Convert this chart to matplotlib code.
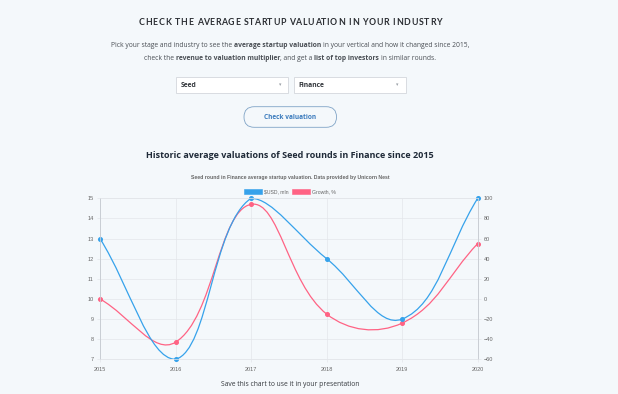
import matplotlib
matplotlib.use('Agg')
import matplotlib.pyplot as plt
import numpy as np
from matplotlib.path import Path
from matplotlib.patches import PathPatch, FancyBboxPatch, Rectangle

# chart data
years = [2015, 2016, 2017, 2018, 2019, 2020]
usd_mln = [13, 7, 15, 12, 9, 15]
growth_pct = [0, -43, 94, -15, -24, 55]
usd_ticks = list(range(7, 16))
growth_ticks = list(range(-60, 101, 20))

stage = 'Seed'
industry = 'Finance'

BG = '#f4f8fb'
BLUE = '#36a2eb'
RED = '#ff6384'
GRID = '#e3e6ea'
BODY = 'Open Sans'
CHART_FONT = 'Liberation Sans'

# manual kerning for the spaced heading (freetype skips the font's GPOS kerning)
KERN = {'TA': -1.3, 'AT': -1.0, 'RA': -0.7, 'AV': -0.8, 'VA': -0.9, 'YO': -0.4}

W, H = 618, 394
fig = plt.figure(figsize=(W / 100, H / 100), dpi=100, facecolor=BG)

# page background in pixel coordinates
page = fig.add_axes([0, 0, 1, 1], zorder=0)
page.set_xlim(0, W)
page.set_ylim(H, 0)
page.axis('off')
renderer = fig.canvas.get_renderer()


def text_width(t):
    return t.get_window_extent(renderer).width


def tracked_text(s, x0, x1, y, **kw):
    # letter-spaced heading, spread across x0..x1
    probe = page.text(0, 0, s, **kw)
    natural = text_width(probe)
    starts = []
    shift = 0
    for i, c in enumerate(s):
        if i > 0:
            shift += KERN.get(s[i - 1:i + 1], 0)
        if c == ' ':
            starts.append(None)
            continue
        probe.set_text(s[:i + 1])
        end = text_width(probe)
        probe.set_text(c)
        starts.append(end - text_width(probe) + shift)
    probe.remove()
    track = (x1 - x0 - natural - shift) / (len(s) - 1)
    for i, c in enumerate(s):
        if starts[i] is not None:
            page.text(x0 + starts[i] + i * track, y, c, va='center', ha='left', **kw)


def rich_line(runs, cx, y, size, color):
    # runs: (text, bold, space_before)
    probe = page.text(0, 0, 'aa', family=BODY, fontsize=size)
    aa = text_width(probe)
    probe.set_text('a a')
    space_w = text_width(probe) - aa
    probe.remove()
    items = []
    total = 0
    for s, bold, gap in runs:
        t = page.text(0, y, s, family=BODY, fontsize=size, color=color,
                      fontweight='bold' if bold else 'normal',
                      va='center', ha='left')
        g = space_w if gap else 0
        w = text_width(t)
        items.append((t, g, w))
        total += g + w
    x = cx - total / 2
    for t, g, w in items:
        x += g
        t.set_x(x)
        x += w


# heading
tracked_text('CHECK THE AVERAGE STARTUP VALUATION IN YOUR INDUSTRY', 138.5, 442, 22.5,
             family='Lato', fontweight='bold', fontsize=6.3, color='#2b2e33')

rich_line([('Pick your stage and industry to see the', False, False),
           ('average startup valuation', True, True),
           ('in your vertical and how it changed since 2015,', False, True)],
          290, 45.5, 4.85, '#4a4f55')
rich_line([('check the', False, False),
           ('revenue to valuation multiplier', True, True),
           (', and get a', False, False),
           ('list of top investors', True, True),
           ('in similar rounds.', False, True)],
          290, 58, 4.85, '#4a4f55')

# dropdowns
for label, x0, x1 in [(stage, 176, 288), (industry, 293.5, 405.5)]:
    page.add_patch(Rectangle((x0, 76.7), x1 - x0, 16.6, facecolor='white',
                             edgecolor='#d3d7dc', lw=0.6))
    page.text(x0 + 4.5, 85.2, label, family=BODY, fontweight='bold', fontsize=4.9,
              color='#33373c', va='center', ha='left')
    page.text(x1 - 8, 84.6, '\u25be', family='DejaVu Sans', fontsize=3.5,
              color='#9aa0a6', va='center', ha='center')

# button
page.add_patch(FancyBboxPatch((244, 106.7), 92.5, 20.6,
                              boxstyle='round,pad=0,rounding_size=10.3',
                              facecolor=BG, edgecolor='#7fa3c6', lw=0.6))
page.text(290.3, 117, 'Check valuation', family=BODY, fontweight='bold', fontsize=4.7,
          color='#3b7bbd', va='center', ha='center')

# chart heading
page.text(290.3, 155.7, f'Historic average valuations of {stage} rounds in {industry} since 2015',
          family=BODY, fontweight='bold', fontsize=6.5, color='#1f2a38',
          va='center', ha='center')
page.text(290.5, 177.7,
          f'{stage} round in {industry} average startup valuation. Data provided by Unicorn Nest',
          family=CHART_FONT, fontweight='bold', fontsize=3.7, color='#666666',
          va='center', ha='center')

# legend
for x0, color, label in [(244, BLUE, '$USD, mln'), (292, RED, 'Growth, %')]:
    page.add_patch(Rectangle((x0, 189.3), 18, 5, facecolor=color, edgecolor=color, lw=0.4))
    page.text(x0 + 20.5, 191.8, label, family=CHART_FONT, fontsize=3.7, color='#666666',
              va='center', ha='left')

page.text(221, 384.3, 'Save this chart to use it in your presentation', family=BODY,
          fontsize=4.9, color='#33373c', va='center', ha='left')

# chart axes
left, right = 100 / W, 477.7 / W
bottom, top = 1 - 359.3 / H, 1 - 198.3 / H
ax = fig.add_axes([left, bottom, right - left, top - bottom], zorder=1)
ax.set_facecolor('none')
ax.set_xlim(years[0], years[-1])
ax.set_ylim(usd_ticks[0], usd_ticks[-1])
ax.set_xticks(years)
ax.set_yticks(usd_ticks)
ax.grid(True, color=GRID, lw=0.5)
ax.set_axisbelow(True)

ax2 = ax.twinx()
ax2.set_ylim(growth_ticks[0], growth_ticks[-1])
ax2.set_yticks(growth_ticks)

for a in (ax, ax2):
    for side in ('top', 'bottom'):
        a.spines[side].set_color(GRID)
        a.spines[side].set_linewidth(0.5)
    for side in ('left', 'right'):
        a.spines[side].set_color('#c9ced4')
        a.spines[side].set_linewidth(0.6)
    a.tick_params(labelsize=4.0, labelcolor='#666666', color=GRID, length=2.5,
                  width=0.5, pad=2)
    for lab in a.get_xticklabels() + a.get_yticklabels():
        lab.set_family(CHART_FONT)
ax.tick_params(axis='x', pad=3)


def spline_path(a, xs, ys, tension=0.4):
    # chart.js style bezier through the points, computed in pixels
    pts = a.transData.transform(np.column_stack([xs, ys]))
    bb = a.bbox
    n = len(pts)
    ctrl = []
    for i in range(n):
        prev = pts[max(i - 1, 0)]
        cur = pts[i]
        nxt = pts[min(i + 1, n - 1)]
        d01 = np.hypot(*(cur - prev))
        d12 = np.hypot(*(nxt - cur))
        tot = d01 + d12
        s01 = d01 / tot if tot else 0
        s12 = d12 / tot if tot else 0
        cp = cur - tension * s01 * (nxt - prev)
        cn = cur + tension * s12 * (nxt - prev)
        cp = np.clip(cp, [bb.x0, bb.y0], [bb.x1, bb.y1])
        cn = np.clip(cn, [bb.x0, bb.y0], [bb.x1, bb.y1])
        ctrl.append((cp, cn))
    verts = [pts[0]]
    codes = [Path.MOVETO]
    for i in range(1, n):
        verts += [ctrl[i - 1][1], ctrl[i][0], pts[i]]
        codes += [Path.CURVE4] * 3
    return Path(a.transData.inverted().transform(np.array(verts)), codes)


ax2.add_patch(PathPatch(spline_path(ax2, years, growth_pct), facecolor='none',
                        edgecolor=RED, lw=0.9))
ax2.plot(years, growth_pct, 'o', color=RED, ms=2.6, clip_on=False)
ax2.add_patch(PathPatch(spline_path(ax, years, usd_mln), facecolor='none',
                        edgecolor=BLUE, lw=0.9, transform=ax.transData))
ax2.plot(years, usd_mln, 'o', color=BLUE, ms=2.6, clip_on=False, transform=ax.transData)

fig.savefig('out.png', dpi=100, facecolor=BG)
